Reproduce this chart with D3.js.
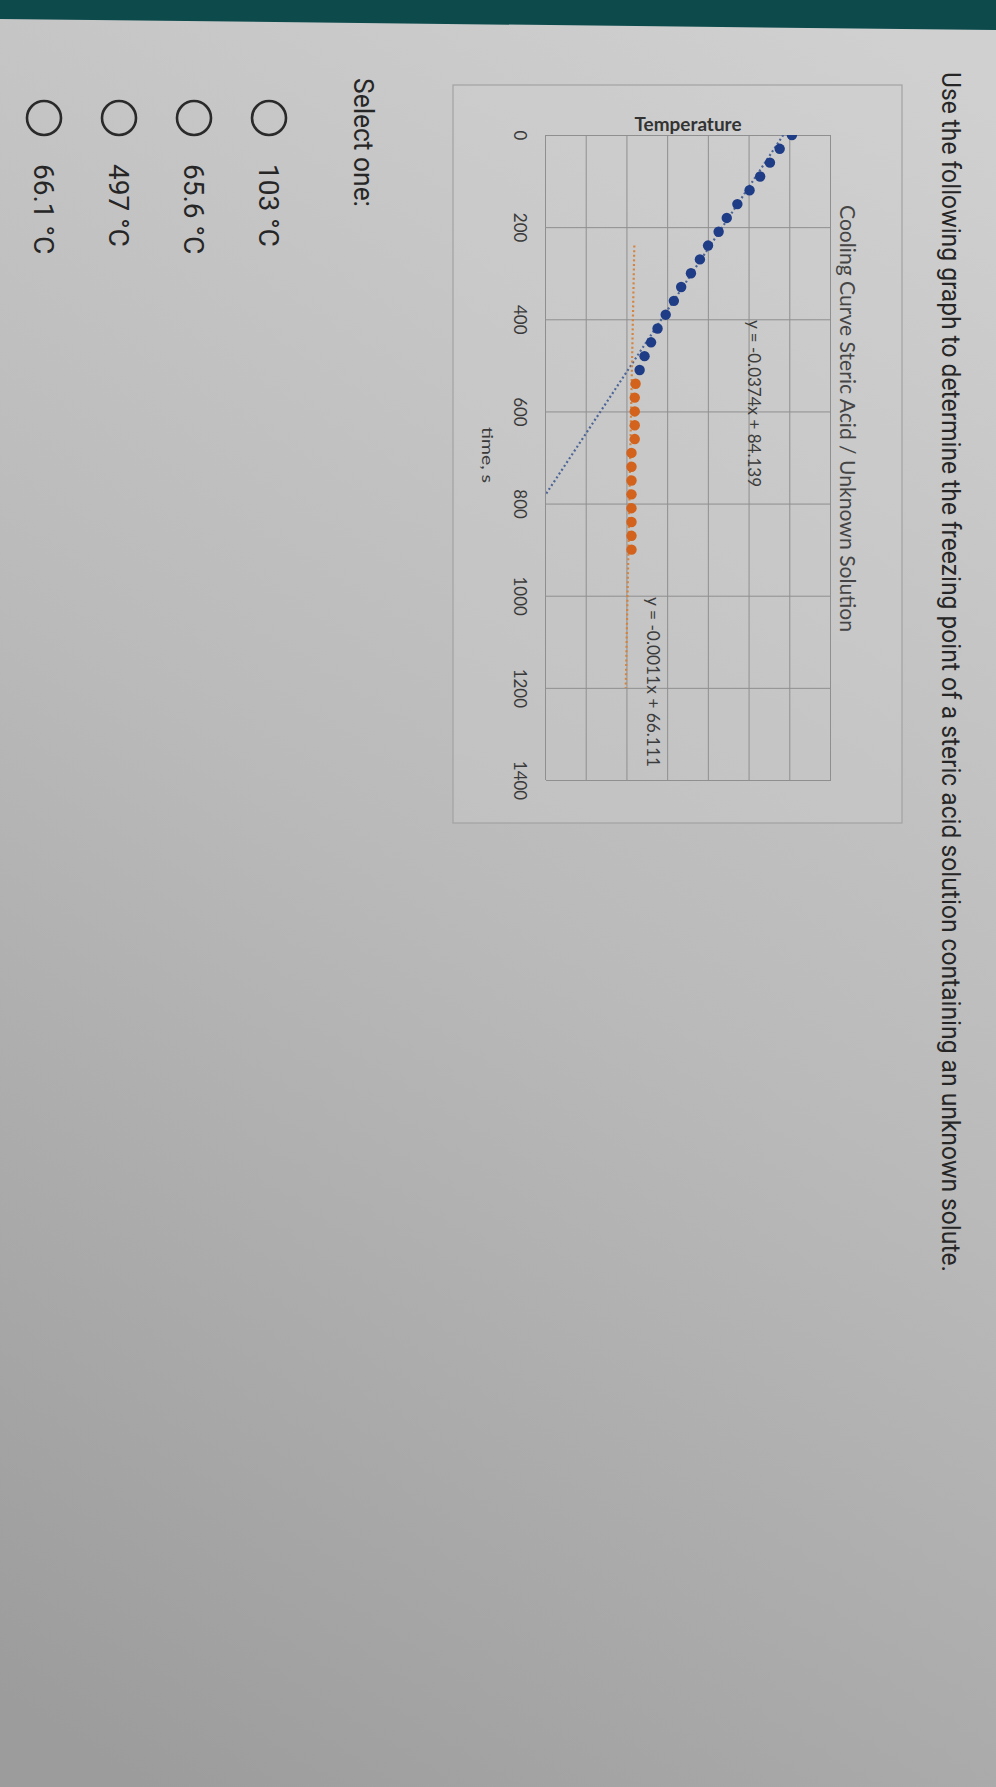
<!DOCTYPE html>
<html><head><meta charset="utf-8">
<script src="https://cdn.jsdelivr.net/npm/d3@7"></script>
<style>html,body{margin:0;padding:0;overflow:hidden;background:#b8b8b8}</style>
</head><body>
<svg id="page" width="996" height="1787"></svg>
<script>
// ---------------- data ----------------
const questionText = "Use the following graph to determine the freezing point of a steric acid solution containing an unknown solute.";
const selectLabel = "Select one:";
const optionLabels = ["103 °C", "65.6 °C", "497 °C", "66.1 °C"];
const chartTitle = "Cooling Curve Steric Acid / Unknown Solution";
const xAxisTitle = "time, s";
const yAxisTitle = "Temperature";
const xTickValues = [0, 200, 400, 600, 800, 1000, 1200, 1400];
const yGridValues = [55, 60, 65, 70, 75, 80, 85, 90];
const liquidTime = [0, 30, 60, 90, 120, 150, 180, 210, 240, 270, 300, 330, 360, 390, 420, 450, 480, 510];
const liquidTemp = [85.2, 83.7, 82.5, 81.3, 80.0, 78.5, 77.2, 76.2, 74.9, 73.9, 72.8, 71.6, 70.7, 69.7, 68.7, 67.9, 67.1, 66.5];
const solidTime = [540, 570, 600, 630, 660, 690, 720, 750, 780, 810, 840, 870, 900];
const solidTemp = [66.0, 65.9, 65.9, 65.9, 65.9, 65.5, 65.5, 65.5, 65.5, 65.5, 65.5, 65.5, 65.5];
const trendLabels = ["y = -0.0374x + 84.139", "y = -0.0011x + 66.111"];
const trendSlope = [-0.0374, -0.0011];
const trendIntercept = [84.139, 66.111];
const trendFrom = [0, 240];
const trendTo = [810, 1200];

// ---------------- page ----------------
const svg = d3.select("#page");
const defs = svg.append("defs");
const bg = defs.append("linearGradient").attr("id", "bg")
  .attr("gradientUnits", "userSpaceOnUse")
  .attr("x1", 996).attr("y1", 100).attr("x2", 0).attr("y2", 1700);
bg.append("stop").attr("offset", 0).attr("stop-color", "#d0d0d0");
bg.append("stop").attr("offset", 0.5).attr("stop-color", "#bababa");
bg.append("stop").attr("offset", 1).attr("stop-color", "#9c9c9c");
svg.append("rect").attr("width", 996).attr("height", 1787).attr("fill", "url(#bg)");
svg.append("polygon").attr("points", "0,0 996,0 996,30 0,19").attr("fill", "#0c4a4c");

// rotated page frame: u = image y, v = 996 - image x
const g = svg.append("g").attr("transform", "translate(996,0) rotate(90)");

g.append("text").attr("x", 72).attr("y", 54)
  .attr("font-family", "Roboto").attr("font-size", 26).attr("fill", "#262626")
  .attr("textLength", 1200).attr("lengthAdjust", "spacingAndGlyphs")
  .text(questionText);

g.append("text").attr("x", 78).attr("y", 642)
  .attr("font-family", "Roboto").attr("font-size", 28).attr("fill", "#262626")
  .attr("textLength", 129).attr("lengthAdjust", "spacingAndGlyphs")
  .text(selectLabel);

const optV = [727, 802, 877, 952];
optionLabels.forEach((t, i) => {
  g.append("circle").attr("cx", 118).attr("cy", optV[i]).attr("r", 17)
    .attr("fill", "none").attr("stroke", "#2a2a2a").attr("stroke-width", 2.6);
  g.append("text").attr("x", 164).attr("y", optV[i] + 10)
    .attr("font-family", "Roboto").attr("font-size", 28).attr("fill", "#262626")
    .text(t);
});

// ---------------- chart ----------------
const chart = g.append("g");
chart.append("rect").attr("x", 85).attr("y", 94).attr("width", 738).attr("height", 449)
  .attr("fill", "#cfcfcf").attr("fill-opacity", 0.3).attr("stroke", "#a2a2a2").attr("stroke-width", 1.2);

const x = d3.scaleLinear().domain([0, 1400]).range([135, 780]);
const y = d3.scaleLinear().domain([55, 90]).range([450, 165]);

const xAxis = d3.axisBottom(x).tickValues(xTickValues).tickFormat(d3.format("d"))
  .tickSizeInner(-(450 - 165)).tickSizeOuter(0).tickPadding(20);
const xa = chart.append("g").attr("transform", "translate(0,450)").call(xAxis);
xa.select(".domain").remove();
xa.selectAll("line").attr("stroke", "#8f8f8f").attr("stroke-width", 1);
xa.selectAll("text").attr("font-family", "Lato").attr("font-size", 17).attr("fill", "#3a3a3a");

const yAxis = d3.axisLeft(y).tickValues(yGridValues).tickSizeInner(-(780 - 135)).tickSizeOuter(0).tickFormat("");
const ya = chart.append("g").attr("transform", "translate(135,0)").call(yAxis);
ya.select(".domain").remove();
ya.selectAll("line").attr("stroke", "#8f8f8f").attr("stroke-width", 1);

chart.append("text").attr("x", 205).attr("y", 156)
  .attr("font-family", "Lato").attr("font-size", 22).attr("fill", "#454545")
  .attr("textLength", 427).attr("lengthAdjust", "spacingAndGlyphs")
  .text(chartTitle);

chart.append("text").attr("transform", "translate(131,308) rotate(-90)")
  .attr("text-anchor", "middle")
  .attr("font-family", "Lato").attr("font-weight", 700).attr("font-size", 19).attr("fill", "#333")
  .attr("textLength", 107).attr("lengthAdjust", "spacingAndGlyphs")
  .text(yAxisTitle);

chart.append("text").attr("x", 427).attr("y", 514)
  .attr("font-family", "Lato").attr("font-size", 16).attr("fill", "#3a3a3a")
  .attr("textLength", 56).attr("lengthAdjust", "spacingAndGlyphs")
  .text(xAxisTitle);

defs.append("clipPath").attr("id", "plotclip").append("rect")
  .attr("x", 135).attr("y", 165).attr("width", 645).attr("height", 285);
const plot = chart.append("g").attr("clip-path", "url(#plotclip)");

const trendColors = ["#4d6597", "#d4843f"];
const line = d3.line().x(d => x(d[0])).y(d => y(d[1]));
trendSlope.forEach((m, i) => {
  const pts = [trendFrom[i], trendTo[i]].map(t => [t, m * t + trendIntercept[i]]);
  plot.append("path").attr("d", line(pts)).attr("fill", "none")
    .attr("stroke", trendColors[i]).attr("stroke-width", 2.2).attr("stroke-dasharray", "2,2.6");
});

plot.selectAll(".liq").data(liquidTime).join("circle")
  .attr("cx", (d) => x(d)).attr("cy", (d, i) => y(liquidTemp[i])).attr("r", 5.2)
  .attr("fill", "#1f3c86");
plot.selectAll(".sol").data(solidTime).join("circle")
  .attr("cx", (d) => x(d)).attr("cy", (d, i) => y(solidTemp[i])).attr("r", 5.2)
  .attr("fill", "#d2621c");

const labelPos = [[320, 248, 167], [597, 349, 170]];
trendLabels.forEach((t, i) => {
  chart.append("text").attr("x", labelPos[i][0]).attr("y", labelPos[i][1])
    .attr("font-family", "Lato").attr("font-size", 17).attr("fill", "#3c3c3c")
    .attr("textLength", labelPos[i][2]).attr("lengthAdjust", "spacingAndGlyphs")
    .text(t);
});
</script>
</body></html>
